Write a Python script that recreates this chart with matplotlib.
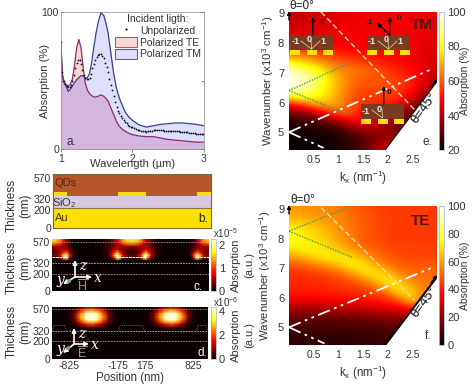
import numpy as np
import matplotlib
matplotlib.use('Agg')
import matplotlib.pyplot as plt
from matplotlib.lines import Line2D
from matplotlib.patches import Patch, Rectangle

plt.rcParams['font.family'] = ['Liberation Sans', 'DejaVu Sans']
plt.rcParams['mathtext.default'] = 'regular'
plt.rcParams['font.size'] = 7.5
plt.rcParams['text.color'] = '#333333'
plt.rcParams['axes.labelcolor'] = '#333333'
plt.rcParams['xtick.labelcolor'] = '#333333'
plt.rcParams['ytick.labelcolor'] = '#333333'
plt.rcParams['axes.linewidth'] = 0.5
plt.rcParams['axes.unicode_minus'] = False

# panel a
wl = [1.0, 1.01, 1.02, 1.04, 1.06, 1.08, 1.1, 1.13, 1.16, 1.19, 1.22, 1.25, 1.28, 1.31, 1.34, 1.37,
      1.4, 1.43, 1.46, 1.49, 1.52, 1.56, 1.6, 1.63, 1.66, 1.7, 1.74, 1.78, 1.82, 1.86, 1.9, 1.95,
      2.0, 2.1, 2.2, 2.3, 2.4, 2.5, 2.6, 2.7, 2.8, 2.9, 3.0]
abs_te = [78, 64, 55, 49.5, 47.5, 46.5, 46, 47, 51, 61, 74, 80, 74, 60, 48, 43,
          40.5, 39, 38, 38, 38.5, 39.5, 38.5, 37, 35, 30, 25, 20, 16.5, 14.5, 13, 11.5,
          10.5, 9.5, 9, 9, 8, 7, 6.5, 6, 5.5, 5, 5]
abs_tm = [78, 62, 53, 48.5, 47, 45, 42, 43.5, 46, 48.5, 50.5, 52, 53.5, 53.5, 52, 52,
          55, 63, 74, 84, 92, 99.5, 97.5, 92, 85, 70, 55, 44, 37, 32, 27, 23.5,
          21, 17.5, 16, 17, 18, 18.5, 19, 19, 18.5, 18, 17]
wl_un = list(np.arange(1.0, 1.99, 0.02)) + list(np.arange(2.0, 3.01, 0.025))
abs_un = [78, 56, 50, 47.5, 46, 45, 45.5, 47, 50, 54, 59, 63, 65, 65, 62, 58, 54, 52, 51, 51,
          52, 55, 59, 62, 65, 67, 68.5, 69, 69, 68, 66.5, 63, 59.5, 56, 51, 47, 43, 38.5, 34, 31,
          28, 26, 24, 22.5, 21, 20, 18.7, 17.8, 17, 16.3,
          15.7, 15.1, 14.5, 14.1, 13.7, 13.3, 13, 12.8, 12.7, 12.8, 13, 13.4, 13.7, 13.7, 13.7, 13.7,
          13.7, 13.6, 13.5, 13.4, 13.3, 13.25, 13.2, 13.1, 13, 12.9, 12.8, 12.6, 12.5, 12.3, 12.2,
          12.1, 12, 11.8, 11.6, 11.4, 11.2, 11.1, 11, 10.8, 10.7]

# panels c, d: half of the map, mirrored about position 0
pos_c = [0, 60, 120, 165, 190, 215, 260, 320, 400, 500, 600, 700, 780, 820, 865, 900, 950, 1060]
z_c = [605, 560, 520, 480, 440, 410, 380, 350, 320, 0]
map_c = [
    [1.8, 1.8, 1.5, 1.0, 0.8, 0.6, 0.35, 0.1, 0.03, 0, 0, 0, 0.05, 0.2, 0.5, 0.9, 1.4, 1.8],
    [1.5, 1.4, 1.1, 0.7, 0.55, 0.45, 0.25, 0.1, 0.03, 0, 0, 0, 0.05, 0.15, 0.4, 0.7, 1.1, 1.5],
    [0.6, 0.6, 0.55, 0.5, 0.5, 0.45, 0.3, 0.12, 0.03, 0, 0, 0, 0.05, 0.2, 0.35, 0.45, 0.55, 0.6],
    [0.15, 0.25, 0.4, 0.6, 0.7, 0.6, 0.4, 0.15, 0.03, 0, 0, 0, 0.08, 0.3, 0.5, 0.6, 0.5, 0.2],
    [0.08, 0.15, 0.5, 1.1, 1.5, 1.1, 0.55, 0.15, 0.02, 0, 0, 0, 0.12, 0.55, 1.2, 1.0, 0.5, 0.1],
    [0.3, 0.4, 0.9, 2.0, 2.26, 2.0, 0.7, 0.15, 0, 0, 0, 0, 0.12, 1.0, 2.26, 1.9, 0.7, 0.2],
    [0.05, 0.1, 0.3, 1.8, 2.1, 1.0, 0.25, 0.05, 0, 0, 0, 0, 0.05, 0.4, 2.1, 1.3, 0.2, 0.05],
    [0, 0, 0, 0.05, 0.1, 0.1, 0.05, 0, 0, 0, 0, 0, 0, 0, 0.1, 0.1, 0, 0],
    [0] * 18,
    [0] * 18,
]
pos_d = [0, 75, 150, 225, 300, 375, 450, 525, 600, 675, 750, 825, 900, 975, 1060]
z_d = [595, 560, 520, 480, 440, 400, 360, 320, 0]
map_d = [
    [0, 0, 0, 0, 0.1, 0.2, 0.3, 0.3, 0.3, 0.2, 0.1, 0, 0, 0, 0],
    [0, 0, 0, 0.05, 0.3, 1.2, 2.0, 2.5, 2.2, 1.4, 0.4, 0.05, 0, 0, 0],
    [0, 0, 0, 0.1, 0.6, 2.1, 3.6, 4.2, 3.8, 2.3, 0.7, 0.1, 0, 0, 0],
    [0, 0, 0, 0.1, 0.8, 2.5, 4.1, 4.33, 4.2, 2.7, 0.8, 0.1, 0, 0, 0],
    [0, 0, 0, 0.1, 0.6, 2.1, 3.6, 4.1, 3.7, 2.2, 0.6, 0.1, 0, 0, 0],
    [0, 0, 0, 0.05, 0.3, 1.0, 1.8, 2.2, 1.9, 1.0, 0.3, 0.05, 0, 0, 0],
    [0, 0, 0, 0, 0.05, 0.2, 0.4, 0.5, 0.4, 0.2, 0.05, 0, 0, 0, 0],
    [0] * 15,
    [0] * 15,
]

# panels e, f: columns kx, rows wn from top to bottom
kx = [0, 0.25, 0.5, 0.75, 1, 1.25, 1.5, 1.75, 2, 2.25, 2.5, 2.75, 3]
wn = [9.2, 8.9, 8.6, 8.3, 8.0, 7.7, 7.4, 7.1, 6.8, 6.5, 6.2, 5.9, 5.6, 5.3, 5.0, 4.7, 4.4]
map_e = [
    [42, 42, 42, 44, 46, 46, 48, 48, 48, 48, 48, 48, 46],
    [42, 42, 44, 44, 46, 48, 48, 48, 48, 48, 48, 48, 46],
    [44, 44, 46, 46, 46, 48, 48, 48, 48, 48, 48, 48, 46],
    [46, 46, 46, 46, 48, 48, 48, 48, 48, 48, 48, 46, 46],
    [48, 48, 48, 48, 48, 48, 48, 50, 48, 48, 48, 46, 46],
    [60, 58, 56, 54, 52, 50, 50, 50, 50, 48, 48, 46, 44],
    [78, 74, 68, 64, 60, 58, 56, 52, 50, 50, 48, 46, 44],
    [94, 90, 84, 74, 66, 64, 62, 60, 56, 52, 50, 46, 42],
    [100, 96, 90, 80, 70, 63, 60, 60, 58, 56, 52, 46, 40],
    [99, 94, 88, 78, 70, 62, 58, 58, 58, 56, 52, 44, 36],
    [80, 86, 82, 76, 68, 60, 56, 56, 56, 54, 46, 36, 28],
    [46, 52, 64, 70, 68, 58, 54, 54, 52, 48, 36, 28, 25],
    [30, 32, 36, 46, 58, 60, 50, 46, 44, 38, 28, 24, 24],
    [23, 24, 26, 28, 32, 44, 46, 42, 38, 32, 26, 24, 24],
    [21, 21, 21, 22, 24, 28, 34, 36, 36, 32, 26, 24, 24],
    [20, 20, 20, 21, 22, 24, 28, 34, 40, 36, 26, 24, 24],
    [20, 20, 20, 21, 22, 24, 30, 38, 46, 40, 26, 24, 24],
]
map_f = [
    [58, 58, 56, 56, 54, 50, 48, 46, 45, 45, 45, 45, 45],
    [60, 60, 58, 58, 56, 52, 50, 47, 46, 45, 45, 45, 45],
    [66, 64, 62, 60, 58, 54, 50, 48, 46, 45, 45, 45, 45],
    [76, 72, 68, 64, 58, 54, 50, 48, 46, 45, 45, 45, 45],
    [76, 74, 70, 66, 60, 56, 50, 48, 46, 45, 45, 45, 45],
    [72, 74, 74, 70, 64, 58, 52, 50, 47, 46, 46, 46, 46],
    [60, 64, 70, 74, 74, 70, 60, 53, 50, 48, 46, 46, 46],
    [48, 50, 54, 58, 66, 74, 74, 62, 54, 50, 50, 50, 50],
    [43, 43, 45, 47, 50, 56, 68, 75, 66, 56, 52, 52, 52],
    [42, 42, 42, 43, 45, 47, 50, 60, 76, 68, 58, 54, 54],
    [41, 41, 41, 41, 42, 43, 44, 47, 54, 76, 66, 56, 54],
    [34, 34, 34, 35, 36, 37, 38, 40, 42, 46, 72, 50, 50],
    [22, 22, 22, 23, 24, 25, 26, 28, 30, 32, 36, 32, 32],
    [13, 13, 13, 13, 14, 14, 15, 16, 18, 18, 18, 18, 18],
    [9, 9, 9, 9, 9, 9, 10, 10, 11, 11, 11, 11, 11],
    [6, 6, 6, 6, 6, 6, 7, 7, 8, 8, 8, 8, 8],
    [5, 5, 5, 5, 5, 5, 6, 6, 7, 7, 7, 7, 7],
]

W, H = 474, 385
fig = plt.figure(figsize=(W / 100, H / 100), dpi=100)


def box(x0, y0, x1, y1):
    return fig.add_axes([x0 / W, 1 - y1 / H, (x1 - x0) / W, (y1 - y0) / H])


def small_ticks(ax):
    ax.tick_params(length=2, width=0.5, pad=1.5, labelsize=7.5, color='#555555')


# --- a ---
ax = box(61, 12, 203.5, 149)
ax.fill_between(wl, abs_tm, color='#dde0f8', lw=0)
ax.fill_between(wl, abs_te, color='#f8d8d2', lw=0)
ax.fill_between(wl, np.minimum(abs_te, abs_tm), color='#d2b6dd', lw=0)
ax.plot(wl, abs_tm, color='#3c3c90', lw=0.9)
ax.plot(wl, abs_te, color='#8c2a70', lw=0.9)
ax.plot(wl_un, abs_un, ls='none', marker='o', ms=1.3, mew=0, color='#10101a')
ax.set_xlim(1, 3)
ax.set_ylim(0, 100)
ax.set_xticks([1, 2, 3])
ax.set_yticks([0, 50, 100], ['0', '', '100'])
small_ticks(ax)
ax.tick_params(right=True, direction='in', axis='y')
ax.set_xlabel('Wavelength (µm)', fontsize=8, va='center')
ax.xaxis.set_label_coords(0.5, -0.11)
ax.set_ylabel('Absorption (%)', fontsize=8, va='center')
ax.yaxis.set_label_coords(-0.112, 0.5)
for s in ax.spines.values():
    s.set_color('#888888')
handles = [Line2D([], [], ls='none', marker='o', ms=1.5, mew=0, color='k'),
           Patch(fc='#f8d8d2', ec='#a86060', lw=0.8),
           Patch(fc='#dde0f8', ec='#6a5a90', lw=0.8)]
leg = ax.legend(handles, ['Unpolarized', 'Polarized TE', 'Polarized TM'], title='Incident ligth:',
                frameon=False, fontsize=7.5, title_fontsize=7.5, loc='upper right',
                bbox_to_anchor=(1.0, 1.0), borderpad=0.2, handlelength=2.1, handleheight=1.15,
                handletextpad=0.35, labelspacing=0.1, borderaxespad=0)

# --- b ---
ax = box(53, 174, 211, 227.5)
layers = [(0, 228, '#ffdf00'), (228, 355, '#d9c8e2'), (355, 610, '#b5572b')]
for bottom, top, col in layers:
    ax.axhspan(bottom, top, color=col, lw=0)
ax.axhline(228, color='#8a7a30', lw=0.8)
for left, right in [(-1041, -855), (-175, 190), (870, 1054)]:
    ax.add_patch(Rectangle((left, 355), right - left, 50, fc='#ffdc10', ec='none'))
ax.set_xlim(-1041, 1054)
ax.set_ylim(0, 610)
ax.set_xticks([])
ax.set_yticks([0, 200, 320, 570])
small_ticks(ax)
ax.tick_params(length=0)
for s in ax.spines.values():
    s.set_color('#7a6a30')
    s.set_linewidth(0.8)


# --- c, d ---
def field_map(rect, pos, z, values, vmax, ytop, cbar_rect, cbar_ticks):
    ax = box(*rect)
    half = np.array(values, dtype=float)
    pos = np.array(pos, dtype=float)
    full_pos = np.concatenate([-pos[:0:-1], pos])
    full = np.hstack([half[:, :0:-1], half])
    m = ax.pcolormesh(full_pos, z, full, cmap='hot', vmin=0, vmax=vmax, shading='gouraud')
    ax.set_xlim(-1055, 1020)
    ax.set_ylim(0, ytop)
    ax.set_yticks([0, 200, 320, 570])
    small_ticks(ax)
    ax.tick_params(length=0)
    for s in ax.spines.values():
        s.set_visible(False)
    for y, col in [(570, '#aaaaaa'), (320, '#dddddd'), (200, '#e0a0a0')]:
        ax.axhline(y, color=col, lw=0.5, ls=(0, (2.5, 1.5)))
    cax = box(*cbar_rect)
    cb = fig.colorbar(m, cax=cax)
    cb.set_ticks(cbar_ticks)
    cb.ax.tick_params(length=0, pad=2, labelsize=8)
    cb.outline.set_edgecolor('#999999')
    cb.outline.set_linewidth(0.4)
    return ax


ax_c = field_map((52, 239, 208.5, 291), pos_c, z_c, map_c, 2.26, 605, (211, 239, 216, 291), [0, 1, 2])
ax_c.set_xticks([])
for x0, x1 in [(-1055, -860), (-175, 175), (860, 1020)]:
    ax_c.plot([x0, x1], [395, 395], color='white', lw=0.7, ls=(0, (3, 0.6)))
ax_d = field_map((52, 307, 208, 359), pos_d, z_d, map_d, 4.33, 593, (211, 307, 216, 359), [0, 2, 4])
ax_d.set_xticks([-825, -175, 175, 825])
ax_d.set_xlabel('Position (nm)', labelpad=1, fontsize=8.3)
for x0, x1 in [(-1055, -860), (-175, 175), (860, 1020)]:
    ax_d.plot([x0, x0 + 30, x1 - 30, x1], [320, 385, 385, 320], color='#999999', lw=0.4, ls=(0, (2, 1.5)))


# --- e, f ---
def dispersion(rect, values, vmin, cbar_rect, cbar_ticks, top, dots, dashed, dashdot, edge_lw, ylab_x):
    ax = box(*rect)
    dk = kx[1] - kx[0]
    dw = wn[0] - wn[1]
    m = ax.imshow(values, cmap='hot', vmin=vmin, vmax=100, aspect='auto', interpolation='bicubic',
                  extent=[kx[0] - dk / 2, kx[-1] + dk / 2, wn[-1] - dw / 2, wn[0] + dw / 2])
    ax.fill([1.95, 3.02, 3.02], [4.4, 6.75, 4.4], color='white', zorder=2, lw=0)
    ax.plot([1.95, 3.0], [4.4, 6.7], color='black', lw=edge_lw, zorder=3)
    for xs, ys, col in dots:
        ax.plot(xs, ys, color=col, lw=1, ls=(0, (1, 1)), zorder=4)
    ax.plot(*dashed, color='#ffdca8', lw=1, ls=(0, (4, 2.2)), zorder=4)
    for xs, ys in dashdot:
        ax.plot(xs, ys, color='white', lw=1.3, ls=(0, (7, 2.5, 1.5, 2.5, 1.5, 2.5)), zorder=4)
    ax.set_xlim(0, 3)
    ax.set_ylim(4.4, top)
    ax.set_xticks([0.5, 1, 1.5, 2, 2.5], ['0.5', '1', '1.5', '2', '2.5'])
    ax.set_yticks([5, 6, 7, 8, 9])
    small_ticks(ax)
    ax.tick_params(length=0, pad=3.5)
    ax.tick_params(axis='y', labelsize=8)
    ax.set_xlabel(r'k$_x$ (nm$^{-1}$)', fontsize=8.3, labelpad=3)
    ax.set_ylabel(r'Wavenumber (x10$^3$ cm$^{-1}$)', fontsize=8.2, va='center')
    ax.yaxis.set_label_coords(ylab_x, 0.5)
    for s in ax.spines.values():
        s.set_visible(False)
    cax = box(*cbar_rect)
    cb = fig.colorbar(m, cax=cax)
    cb.set_ticks(cbar_ticks)
    cb.ax.tick_params(length=0, pad=2.5, labelsize=8)
    cb.set_label('Absorption (%)', fontsize=7.5, va='center')
    cb.ax.yaxis.set_label_coords(5.2, 0.5)
    cb.outline.set_edgecolor('#b0c0d8')
    cb.outline.set_linewidth(0.6)
    return ax


dispersion((289, 12, 437, 150), map_e, 20, (439, 12, 444, 150), [20, 40, 60, 80, 100], 9.05,
           [([0, 1.25], [6.4, 7.35], '#3f9a8a'), ([0, 1.2], [6.4, 5.6], '#3f9a6a')],
           ([0.65, 2.55], [9.05, 5.75]),
           [([0, 2.9], [5, 7.13]), ([0, 0.7], [5, 4.47])], 0.6, -0.142)
dispersion((289, 206, 437, 345), map_f, 0, (439, 206, 444, 345), [0, 20, 40, 60, 80, 100], 9.1,
           [([0, 1.2], [8.25, 9.05], '#3f9a6a'), ([0, 1.3], [8.25, 7.35], '#3f9a6a')],
           ([0.65, 2.55], [9.05, 5.9]),
           [([0, 2.95], [5, 7.05]), ([0, 0.72], [5, 4.45])], 1.4, -0.162)

# overlay in pixel coordinates for the labels and sketches
ov = fig.add_axes([0, 0, 1, 1], zorder=10)
ov.set_xlim(0, W)
ov.set_ylim(H, 0)
ov.axis('off')


def put(x, y, s, **kw):
    kw.setdefault('ha', 'center')
    kw.setdefault('va', 'center')
    ov.text(x, y, s, **kw)


def arrow(x0, y0, x1, y1, color='black', lw=1.0, ms=5):
    ov.annotate('', xy=(x1, y1), xytext=(x0, y0), xycoords='data',
                arrowprops=dict(arrowstyle='-|>', color=color, lw=lw, mutation_scale=ms,
                                shrinkA=0, shrinkB=0))


put(71, 142, 'a.', fontsize=8.5)
put(203, 219, 'b.', fontsize=8.5, color='#222222')
put(198, 287, 'c.', fontsize=8.5, color='white')
put(202, 353, 'd.', fontsize=8.5, color='white')
put(66, 183, 'QDs', fontsize=8, color='#5a2410')
put(64, 203, r'SiO$_2$', fontsize=8, color='#3a3a3a')
put(62, 218, 'Au', fontsize=8, color='#3a3a10')
for yc in [206, 268, 332]:
    put(12, yc, 'Thickness', rotation=90, fontsize=8.5)
    put(25, yc, '(nm)', rotation=90, fontsize=8.5)
for yc in [265, 335]:
    put(236, yc, 'Absorption', rotation=90, fontsize=8)
    put(249, yc, '(a.u.)', rotation=90, fontsize=8)
put(226, 233, r'x10$^{-5}$', fontsize=7)
put(226, 302, r'x10$^{-6}$', fontsize=7)

for ox, oy, zy, xx, yx, yy, lab, col in [(75, 277, 260, 92, 63, 284, r'$\overline{H}$', '#8aa088'),
                                         (74, 344, 328, 89, 63, 353, r'$\overline{E}$', '#8a9a88')]:
    arrow(ox, oy, ox, zy, color='white', lw=1.2, ms=6)
    arrow(ox, oy, xx, oy, color='white', lw=1.2, ms=6)
    arrow(ox, oy, yx, yy, color='white', lw=1.2, ms=6)
    arrow(ox - 4, oy + 3, ox - 9, oy + 6, color=col)
    put(ox + 8, zy + 6, 'z', color='white', style='italic', fontsize=10, family='DejaVu Serif')
    put(xx + 6, oy + 1, 'x', color='white', style='italic', fontsize=10, family='DejaVu Serif')
    put(yx - 3, yy - 4, 'y', color='white', style='italic', fontsize=10, family='DejaVu Serif')
    put(ox + 8, oy + 10, lab, color=col, fontsize=9)


def grating(x, y, labels, rays):
    ov.add_patch(Rectangle((x, y), 43, 15, fc='#7a3c20', ec='none'))
    for dx in [0, 17, 33.5]:
        ov.add_patch(Rectangle((x + dx, y + 15), 9.7, 5, fc='#ffdf10', ec='none'))
    for dx, dy, s in labels:
        put(x + dx, y + dy, s, color='#f0e8e0', fontsize=6.5, fontweight='bold')
    for dx, dy in rays:
        ov.plot([x + 21.5, x + dx], [y + 14, y + dy], color='#e8d8c8', lw=0.5)


grating(290, 35, [(6, 7, '-1'), (19, 4, '0'), (33, 6, '1')], [(11, 6), (21, 5), (30, 6)])
grating(367, 35, [(5, 7, '-1'), (19, 4, '0'), (33, 6, '1')], [(11, 6), (21, 5), (30, 6)])
grating(361, 104, [(5, 7, '-1'), (18, 5, '0')], [(11, 6), (21, 5)])
arrow(312.7, 35, 312.7, 17)
arrow(389.7, 35, 389.7, 17)
arrow(389.7, 35, 377, 23)
arrow(383.7, 104, 383.7, 86)
put(322, 22, '0', fontsize=6, color='#3a1a10', fontweight='bold')
put(399, 18, '0', fontsize=6, color='#3a1a10', fontweight='bold')
put(369, 23, '-1', fontsize=6, color='#3a1a10', fontweight='bold')
put(389, 93, '0', fontsize=6, color='#1a0a05', fontweight='bold')

put(422, 25, 'TM', fontsize=11, fontweight='bold', color='#4a1a10')
put(421, 221, 'TE', fontsize=11, fontweight='bold', color='#4a1a10')
put(302, 6, 'θ=0°', fontsize=8.5, color='#222222')
put(303, 200, 'θ=0°', fontsize=8.5, color='#222222')
put(424, 108, 'θ=45°', fontsize=9.5, rotation=54, color='#111111')
put(424, 302, 'θ=45°', fontsize=9.5, rotation=54, color='#111111')
put(427, 142, 'e.', fontsize=8.5)
put(428, 336, 'f.', fontsize=8.5)
arrow(289, 20, 289, 11, ms=5)
arrow(289, 214, 289, 205, ms=5)
arrow(431, 87, 437, 79, ms=5)
arrow(431, 283, 437, 275, ms=5)

fig.savefig('out.png', dpi=100)
